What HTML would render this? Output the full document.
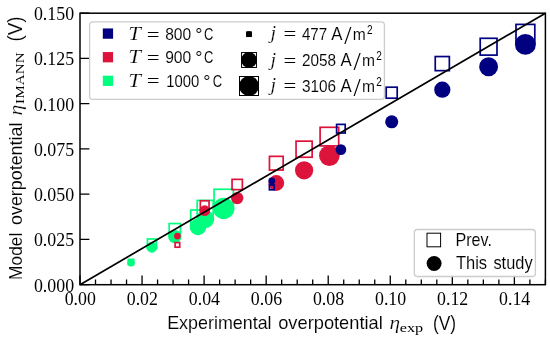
<!DOCTYPE html>
<html><head><meta charset="utf-8"><title>Overpotential parity plot</title>
<style>html,body{margin:0;padding:0;background:#fff}svg{display:block}.ss{font-family:"Liberation Sans",sans-serif;fill:#000;stroke:#fff;stroke-width:0.1px}.s2{font-family:"Liberation Sans",sans-serif;fill:#000}.sf{font-family:"Liberation Serif",serif;fill:#000}.it{font-family:"Liberation Serif",serif;font-style:italic;fill:#000;stroke:#fff;stroke-width:0.2px}</style></head><body>
<svg width="550" height="339" viewBox="0 0 550 339">
<rect width="550" height="339" fill="#fff"/>
<g>
<rect x="128.35" y="259.35" width="5.30" height="5.30" fill="none" stroke="#00ff7f" stroke-width="1.7"/>
<rect x="147.40" y="239.00" width="9.00" height="9.00" fill="none" stroke="#00ff7f" stroke-width="1.7"/>
<rect x="169.15" y="223.55" width="11.30" height="11.30" fill="none" stroke="#00ff7f" stroke-width="1.7"/>
<rect x="190.70" y="210.00" width="14.60" height="14.60" fill="none" stroke="#00ff7f" stroke-width="1.7"/>
<rect x="197.20" y="200.40" width="16.00" height="16.00" fill="none" stroke="#00ff7f" stroke-width="1.7"/>
<rect x="214.05" y="189.25" width="19.30" height="19.30" fill="none" stroke="#00ff7f" stroke-width="1.7"/>
<circle cx="131.00" cy="262.80" r="3.70" fill="#00ff7f"/>
<circle cx="151.90" cy="247.20" r="5.55" fill="#00ff7f"/>
<circle cx="174.80" cy="236.60" r="6.70" fill="#00ff7f"/>
<circle cx="198.00" cy="226.80" r="8.35" fill="#00ff7f"/>
<circle cx="205.20" cy="219.10" r="9.05" fill="#00ff7f"/>
<circle cx="223.70" cy="208.40" r="10.70" fill="#00ff7f"/>
<rect x="175.10" y="242.60" width="4.60" height="4.60" fill="none" stroke="#dc143c" stroke-width="1.7"/>
<rect x="200.35" y="200.75" width="8.70" height="8.70" fill="none" stroke="#dc143c" stroke-width="1.7"/>
<rect x="232.05" y="179.35" width="10.30" height="10.30" fill="none" stroke="#dc143c" stroke-width="1.7"/>
<rect x="269.45" y="156.35" width="13.70" height="13.70" fill="none" stroke="#dc143c" stroke-width="1.7"/>
<rect x="296.05" y="141.15" width="16.10" height="16.10" fill="none" stroke="#dc143c" stroke-width="1.7"/>
<rect x="320.10" y="127.30" width="18.60" height="18.60" fill="none" stroke="#dc143c" stroke-width="1.7"/>
<circle cx="177.40" cy="236.10" r="3.35" fill="#dc143c"/>
<circle cx="204.70" cy="210.70" r="5.40" fill="#dc143c"/>
<circle cx="237.20" cy="198.10" r="6.20" fill="#dc143c"/>
<circle cx="276.30" cy="183.00" r="7.90" fill="#dc143c"/>
<circle cx="304.10" cy="170.30" r="9.10" fill="#dc143c"/>
<circle cx="329.40" cy="155.60" r="10.35" fill="#dc143c"/>
<rect x="269.40" y="185.00" width="4.80" height="4.80" fill="none" stroke="#000080" stroke-width="1.7"/>
<rect x="336.60" y="124.40" width="8.60" height="8.60" fill="none" stroke="#000080" stroke-width="1.7"/>
<rect x="386.20" y="87.20" width="11.00" height="11.00" fill="none" stroke="#000080" stroke-width="1.7"/>
<rect x="435.25" y="56.55" width="14.10" height="14.10" fill="none" stroke="#000080" stroke-width="1.7"/>
<rect x="480.20" y="38.30" width="16.80" height="16.80" fill="none" stroke="#000080" stroke-width="1.7"/>
<rect x="516.00" y="24.40" width="18.80" height="18.80" fill="none" stroke="#000080" stroke-width="1.7"/>
<circle cx="271.80" cy="180.90" r="3.45" fill="#000080"/>
<circle cx="340.90" cy="149.60" r="5.35" fill="#000080"/>
<circle cx="391.70" cy="121.80" r="6.55" fill="#000080"/>
<circle cx="442.30" cy="89.70" r="8.10" fill="#000080"/>
<circle cx="488.60" cy="66.70" r="9.45" fill="#000080"/>
<circle cx="525.40" cy="44.40" r="10.45" fill="#000080"/>
</g>
<line x1="80.0" y1="284.7" x2="545.4" y2="13.2" stroke="#000" stroke-width="1.7"/>
<path d="M80.00 284.7v-9.3 M95.51 284.7v-5.1 M111.03 284.7v-5.1 M126.54 284.7v-5.1 M142.05 284.7v-9.3 M157.57 284.7v-5.1 M173.08 284.7v-5.1 M188.59 284.7v-5.1 M204.11 284.7v-9.3 M219.62 284.7v-5.1 M235.13 284.7v-5.1 M250.65 284.7v-5.1 M266.16 284.7v-9.3 M281.67 284.7v-5.1 M297.19 284.7v-5.1 M312.70 284.7v-5.1 M328.21 284.7v-9.3 M343.73 284.7v-5.1 M359.24 284.7v-5.1 M374.75 284.7v-5.1 M390.27 284.7v-9.3 M405.78 284.7v-5.1 M421.29 284.7v-5.1 M436.81 284.7v-5.1 M452.32 284.7v-9.3 M467.83 284.7v-5.1 M483.35 284.7v-5.1 M498.86 284.7v-5.1 M514.37 284.7v-9.3 M529.89 284.7v-5.1 M545.40 284.7v-5.1 M80.0 284.70h9.4 M80.0 239.45h9.4 M80.0 194.20h9.4 M80.0 148.95h9.4 M80.0 103.70h9.4 M80.0 58.45h9.4 M80.0 13.20h9.4" stroke="#000" stroke-width="1.3" fill="none"/>
<rect x="80.0" y="13.2" width="465.4" height="271.5" fill="none" stroke="#000" stroke-width="1.5"/>
<text class="sf" x="80.30" y="304.6" font-size="17.9" text-anchor="middle" textLength="31.2" lengthAdjust="spacingAndGlyphs">0.00</text>
<text class="sf" x="142.35" y="304.6" font-size="17.9" text-anchor="middle" textLength="31.2" lengthAdjust="spacingAndGlyphs">0.02</text>
<text class="sf" x="204.41" y="304.6" font-size="17.9" text-anchor="middle" textLength="31.2" lengthAdjust="spacingAndGlyphs">0.04</text>
<text class="sf" x="266.46" y="304.6" font-size="17.9" text-anchor="middle" textLength="31.2" lengthAdjust="spacingAndGlyphs">0.06</text>
<text class="sf" x="328.51" y="304.6" font-size="17.9" text-anchor="middle" textLength="31.2" lengthAdjust="spacingAndGlyphs">0.08</text>
<text class="sf" x="390.57" y="304.6" font-size="17.9" text-anchor="middle" textLength="31.2" lengthAdjust="spacingAndGlyphs">0.10</text>
<text class="sf" x="452.62" y="304.6" font-size="17.9" text-anchor="middle" textLength="31.2" lengthAdjust="spacingAndGlyphs">0.12</text>
<text class="sf" x="514.67" y="304.6" font-size="17.9" text-anchor="middle" textLength="31.2" lengthAdjust="spacingAndGlyphs">0.14</text>
<text class="sf" x="74.1" y="291.60" font-size="17.9" text-anchor="end" textLength="40.2" lengthAdjust="spacingAndGlyphs">0.000</text>
<text class="sf" x="74.1" y="246.35" font-size="17.9" text-anchor="end" textLength="40.2" lengthAdjust="spacingAndGlyphs">0.025</text>
<text class="sf" x="74.1" y="201.10" font-size="17.9" text-anchor="end" textLength="40.2" lengthAdjust="spacingAndGlyphs">0.050</text>
<text class="sf" x="74.1" y="155.85" font-size="17.9" text-anchor="end" textLength="40.2" lengthAdjust="spacingAndGlyphs">0.075</text>
<text class="sf" x="74.1" y="110.60" font-size="17.9" text-anchor="end" textLength="40.2" lengthAdjust="spacingAndGlyphs">0.100</text>
<text class="sf" x="74.1" y="65.35" font-size="17.9" text-anchor="end" textLength="40.2" lengthAdjust="spacingAndGlyphs">0.125</text>
<text class="sf" x="74.1" y="20.10" font-size="17.9" text-anchor="end" textLength="40.2" lengthAdjust="spacingAndGlyphs">0.150</text>
<text class="ss" x="167.2" y="329.3" font-size="17.7" textLength="104.4" lengthAdjust="spacingAndGlyphs">Experimental</text>
<text class="ss" x="278.2" y="329.3" font-size="17.7" textLength="104.6" lengthAdjust="spacingAndGlyphs">overpotential</text>
<text class="it" x="389.6" y="329.4" font-size="18.6" textLength="10.6" lengthAdjust="spacingAndGlyphs">η</text>
<text class="sf" x="399.8" y="331.8" font-size="12.2" textLength="23.4" lengthAdjust="spacingAndGlyphs">exp</text>
<text class="ss" x="432.9" y="329.5" font-size="19.5" textLength="23.2" lengthAdjust="spacingAndGlyphs">(V)</text>
<g transform="translate(21.5 280.3) rotate(-90)">
<text class="ss" x="0.4" y="0" font-size="17.7" textLength="47.2" lengthAdjust="spacingAndGlyphs">Model</text>
<text class="ss" x="55.3" y="0" font-size="17.7" textLength="102.4" lengthAdjust="spacingAndGlyphs">overpotential</text>
<text class="it" x="164.9" y="0" font-size="18.6" textLength="10.8" lengthAdjust="spacingAndGlyphs">η</text>
<text class="sf" x="176.4" y="2.9" font-size="12.6" textLength="51.6" lengthAdjust="spacingAndGlyphs">IMANN</text>
<text class="ss" x="238.9" y="0.8" font-size="20.5" textLength="25" lengthAdjust="spacingAndGlyphs">(V)</text>
</g>
<rect x="89.6" y="21.8" width="294.8" height="77.6" rx="3.2" fill="#fff" fill-opacity="0.8" stroke="#ccc" stroke-width="1.3"/>
<rect x="102.8" y="28.45" width="10.3" height="10.3" fill="#000080"/>
<text class="it" x="128.2" y="39.7" font-size="19.2" textLength="12.6" lengthAdjust="spacingAndGlyphs">T</text>
<text class="sf" x="146.8" y="40.5" font-size="19" textLength="12.8" lengthAdjust="spacingAndGlyphs">=</text>
<text class="ss" x="165.2" y="39.7" font-size="17.4" textLength="26.0" lengthAdjust="spacingAndGlyphs">800</text>
<text class="ss" x="195.2" y="40.9" font-size="18" textLength="7.2" lengthAdjust="spacingAndGlyphs">°</text>
<text class="ss" x="203.9" y="39.7" font-size="17.4" textLength="9.4" lengthAdjust="spacingAndGlyphs">C</text>
<rect x="102.8" y="52.05" width="10.3" height="10.3" fill="#dc143c"/>
<text class="it" x="128.2" y="63.2" font-size="19.2" textLength="12.6" lengthAdjust="spacingAndGlyphs">T</text>
<text class="sf" x="146.8" y="64.0" font-size="19" textLength="12.8" lengthAdjust="spacingAndGlyphs">=</text>
<text class="ss" x="165.2" y="63.2" font-size="17.4" textLength="26.0" lengthAdjust="spacingAndGlyphs">900</text>
<text class="ss" x="195.2" y="64.4" font-size="18" textLength="7.2" lengthAdjust="spacingAndGlyphs">°</text>
<text class="ss" x="203.9" y="63.2" font-size="17.4" textLength="9.4" lengthAdjust="spacingAndGlyphs">C</text>
<rect x="102.8" y="75.65" width="10.3" height="10.3" fill="#00ff7f"/>
<text class="it" x="128.2" y="86.6" font-size="19.2" textLength="12.6" lengthAdjust="spacingAndGlyphs">T</text>
<text class="sf" x="146.8" y="87.4" font-size="19" textLength="12.8" lengthAdjust="spacingAndGlyphs">=</text>
<text class="ss" x="166.2" y="86.6" font-size="17.4" textLength="33.0" lengthAdjust="spacingAndGlyphs">1000</text>
<text class="ss" x="203.3" y="87.8" font-size="18" textLength="7.2" lengthAdjust="spacingAndGlyphs">°</text>
<text class="ss" x="212.7" y="86.6" font-size="17.4" textLength="9.4" lengthAdjust="spacingAndGlyphs">C</text>
<rect x="246.65" y="31.85" width="4.70" height="4.70" fill="#000" stroke="#000" stroke-width="1.0"/>
<circle cx="249.00" cy="34.20" r="2.85" fill="#000"/>
<text class="it" x="270.6" y="39.3" font-size="18.4" textLength="5.6" lengthAdjust="spacingAndGlyphs">j</text>
<text class="sf" x="283.5" y="40.4" font-size="19" textLength="12.8" lengthAdjust="spacingAndGlyphs">=</text>
<text class="ss" x="301.9" y="39.6" font-size="17.4" textLength="25.3" lengthAdjust="spacingAndGlyphs">477</text>
<text class="ss" x="331.3" y="39.6" font-size="17.7" textLength="11.2" lengthAdjust="spacingAndGlyphs">A</text>
<text class="sf" x="344.3" y="43.9" font-size="25.8">/</text>
<text class="ss" x="352.8" y="39.6" font-size="15.8" textLength="13" lengthAdjust="spacingAndGlyphs">m</text>
<text class="s2" x="366.9" y="33.9" font-size="12" textLength="5.6" lengthAdjust="spacingAndGlyphs">2</text>
<rect x="241.55" y="52.55" width="14.90" height="14.90" fill="none" stroke="#000" stroke-width="1.0"/>
<circle cx="249.00" cy="60.00" r="7.95" fill="#000"/>
<text class="it" x="270.6" y="65.5" font-size="18.4" textLength="5.6" lengthAdjust="spacingAndGlyphs">j</text>
<text class="sf" x="283.5" y="66.6" font-size="19" textLength="12.8" lengthAdjust="spacingAndGlyphs">=</text>
<text class="ss" x="301.9" y="65.8" font-size="17.4" textLength="34.1" lengthAdjust="spacingAndGlyphs">2058</text>
<text class="ss" x="340.4" y="65.8" font-size="17.7" textLength="11.2" lengthAdjust="spacingAndGlyphs">A</text>
<text class="sf" x="353.4" y="70.1" font-size="25.8">/</text>
<text class="ss" x="362.1" y="65.8" font-size="15.8" textLength="13" lengthAdjust="spacingAndGlyphs">m</text>
<text class="s2" x="376.2" y="60.1" font-size="12" textLength="5.6" lengthAdjust="spacingAndGlyphs">2</text>
<rect x="239.50" y="76.50" width="19.00" height="19.00" fill="none" stroke="#000" stroke-width="1.0"/>
<circle cx="249.00" cy="86.00" r="10.00" fill="#000"/>
<text class="it" x="270.6" y="91.3" font-size="18.4" textLength="5.6" lengthAdjust="spacingAndGlyphs">j</text>
<text class="sf" x="283.5" y="92.4" font-size="19" textLength="12.8" lengthAdjust="spacingAndGlyphs">=</text>
<text class="ss" x="301.9" y="91.6" font-size="17.4" textLength="34.1" lengthAdjust="spacingAndGlyphs">3106</text>
<text class="ss" x="340.4" y="91.6" font-size="17.7" textLength="11.2" lengthAdjust="spacingAndGlyphs">A</text>
<text class="sf" x="353.4" y="95.9" font-size="25.8">/</text>
<text class="ss" x="362.1" y="91.6" font-size="15.8" textLength="13" lengthAdjust="spacingAndGlyphs">m</text>
<text class="s2" x="376.2" y="85.9" font-size="12" textLength="5.6" lengthAdjust="spacingAndGlyphs">2</text>
<rect x="414.3" y="229.5" width="121.1" height="47" rx="3.2" fill="#fff" fill-opacity="0.8" stroke="#ccc" stroke-width="1.3"/>
<rect x="427.00" y="233.20" width="13.60" height="13.60" fill="none" stroke="#000" stroke-width="1.0"/>
<circle cx="434.10" cy="263.50" r="7.45" fill="#000"/>
<text class="ss" x="455.5" y="245.6" font-size="17.7" textLength="36.4" lengthAdjust="spacingAndGlyphs">Prev.</text>
<text class="ss" x="455.9" y="268.9" font-size="17.7" textLength="31.2" lengthAdjust="spacingAndGlyphs">This</text>
<text class="ss" x="493.4" y="268.9" font-size="17.7" textLength="39.2" lengthAdjust="spacingAndGlyphs">study</text>
</svg></body></html>
